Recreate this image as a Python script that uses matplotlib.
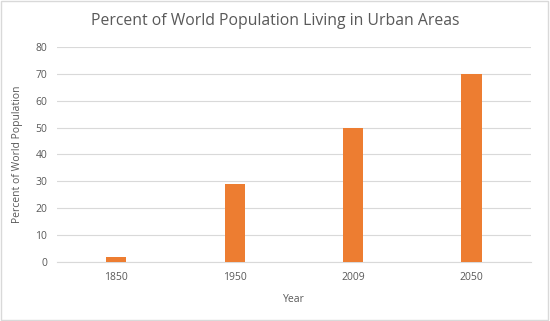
import numpy as np
import matplotlib.pyplot as plt

plt.rcParams['font.family'] = ['Open Sans', 'DejaVu Sans']

years = ["1850", "1950", "2009", "2050"]
percent = [2, 29, 50, 70]
yticks = [0, 10, 20, 30, 40, 50, 60, 70, 80]

fig = plt.figure(figsize=(5.5, 3.21), dpi=100)
ax = fig.add_axes([0.1036, 0.184, 0.8614, 0.67])

x = np.arange(len(years))
ax.bar(x, percent, width=0.17, color="#ED7D31", zorder=3)

ax.set_xlim(-0.5, len(years) - 0.5)
ax.set_ylim(0, 80)
ax.set_yticks(yticks)
ax.set_xticks(x)
ax.set_xticklabels(years)
ax.grid(True, axis="y", color="#d9d9d9", linewidth=0.8, zorder=0)
ax.tick_params(axis="both", length=0, labelsize=7.5, labelcolor="#595959", pad=7)
for side in ["top", "right", "left"]:
    ax.spines[side].set_visible(False)
ax.spines["bottom"].set_color("#d9d9d9")

ax.set_xlabel("Year", fontsize=7.5, color="#595959", labelpad=8)
ax.set_ylabel("Percent of World Population", fontsize=7.5, color="#595959", labelpad=9)
fig.suptitle("Percent of World Population Living in Urban Areas", fontsize=11.3,
             color="#595959", y=0.96)

fig.patches.append(plt.Rectangle((0.002, 0.003), 0.994, 0.994, transform=fig.transFigure,
                                 fill=False, edgecolor="#d9d9d9", linewidth=1))

fig.savefig("out.png", dpi=100)
